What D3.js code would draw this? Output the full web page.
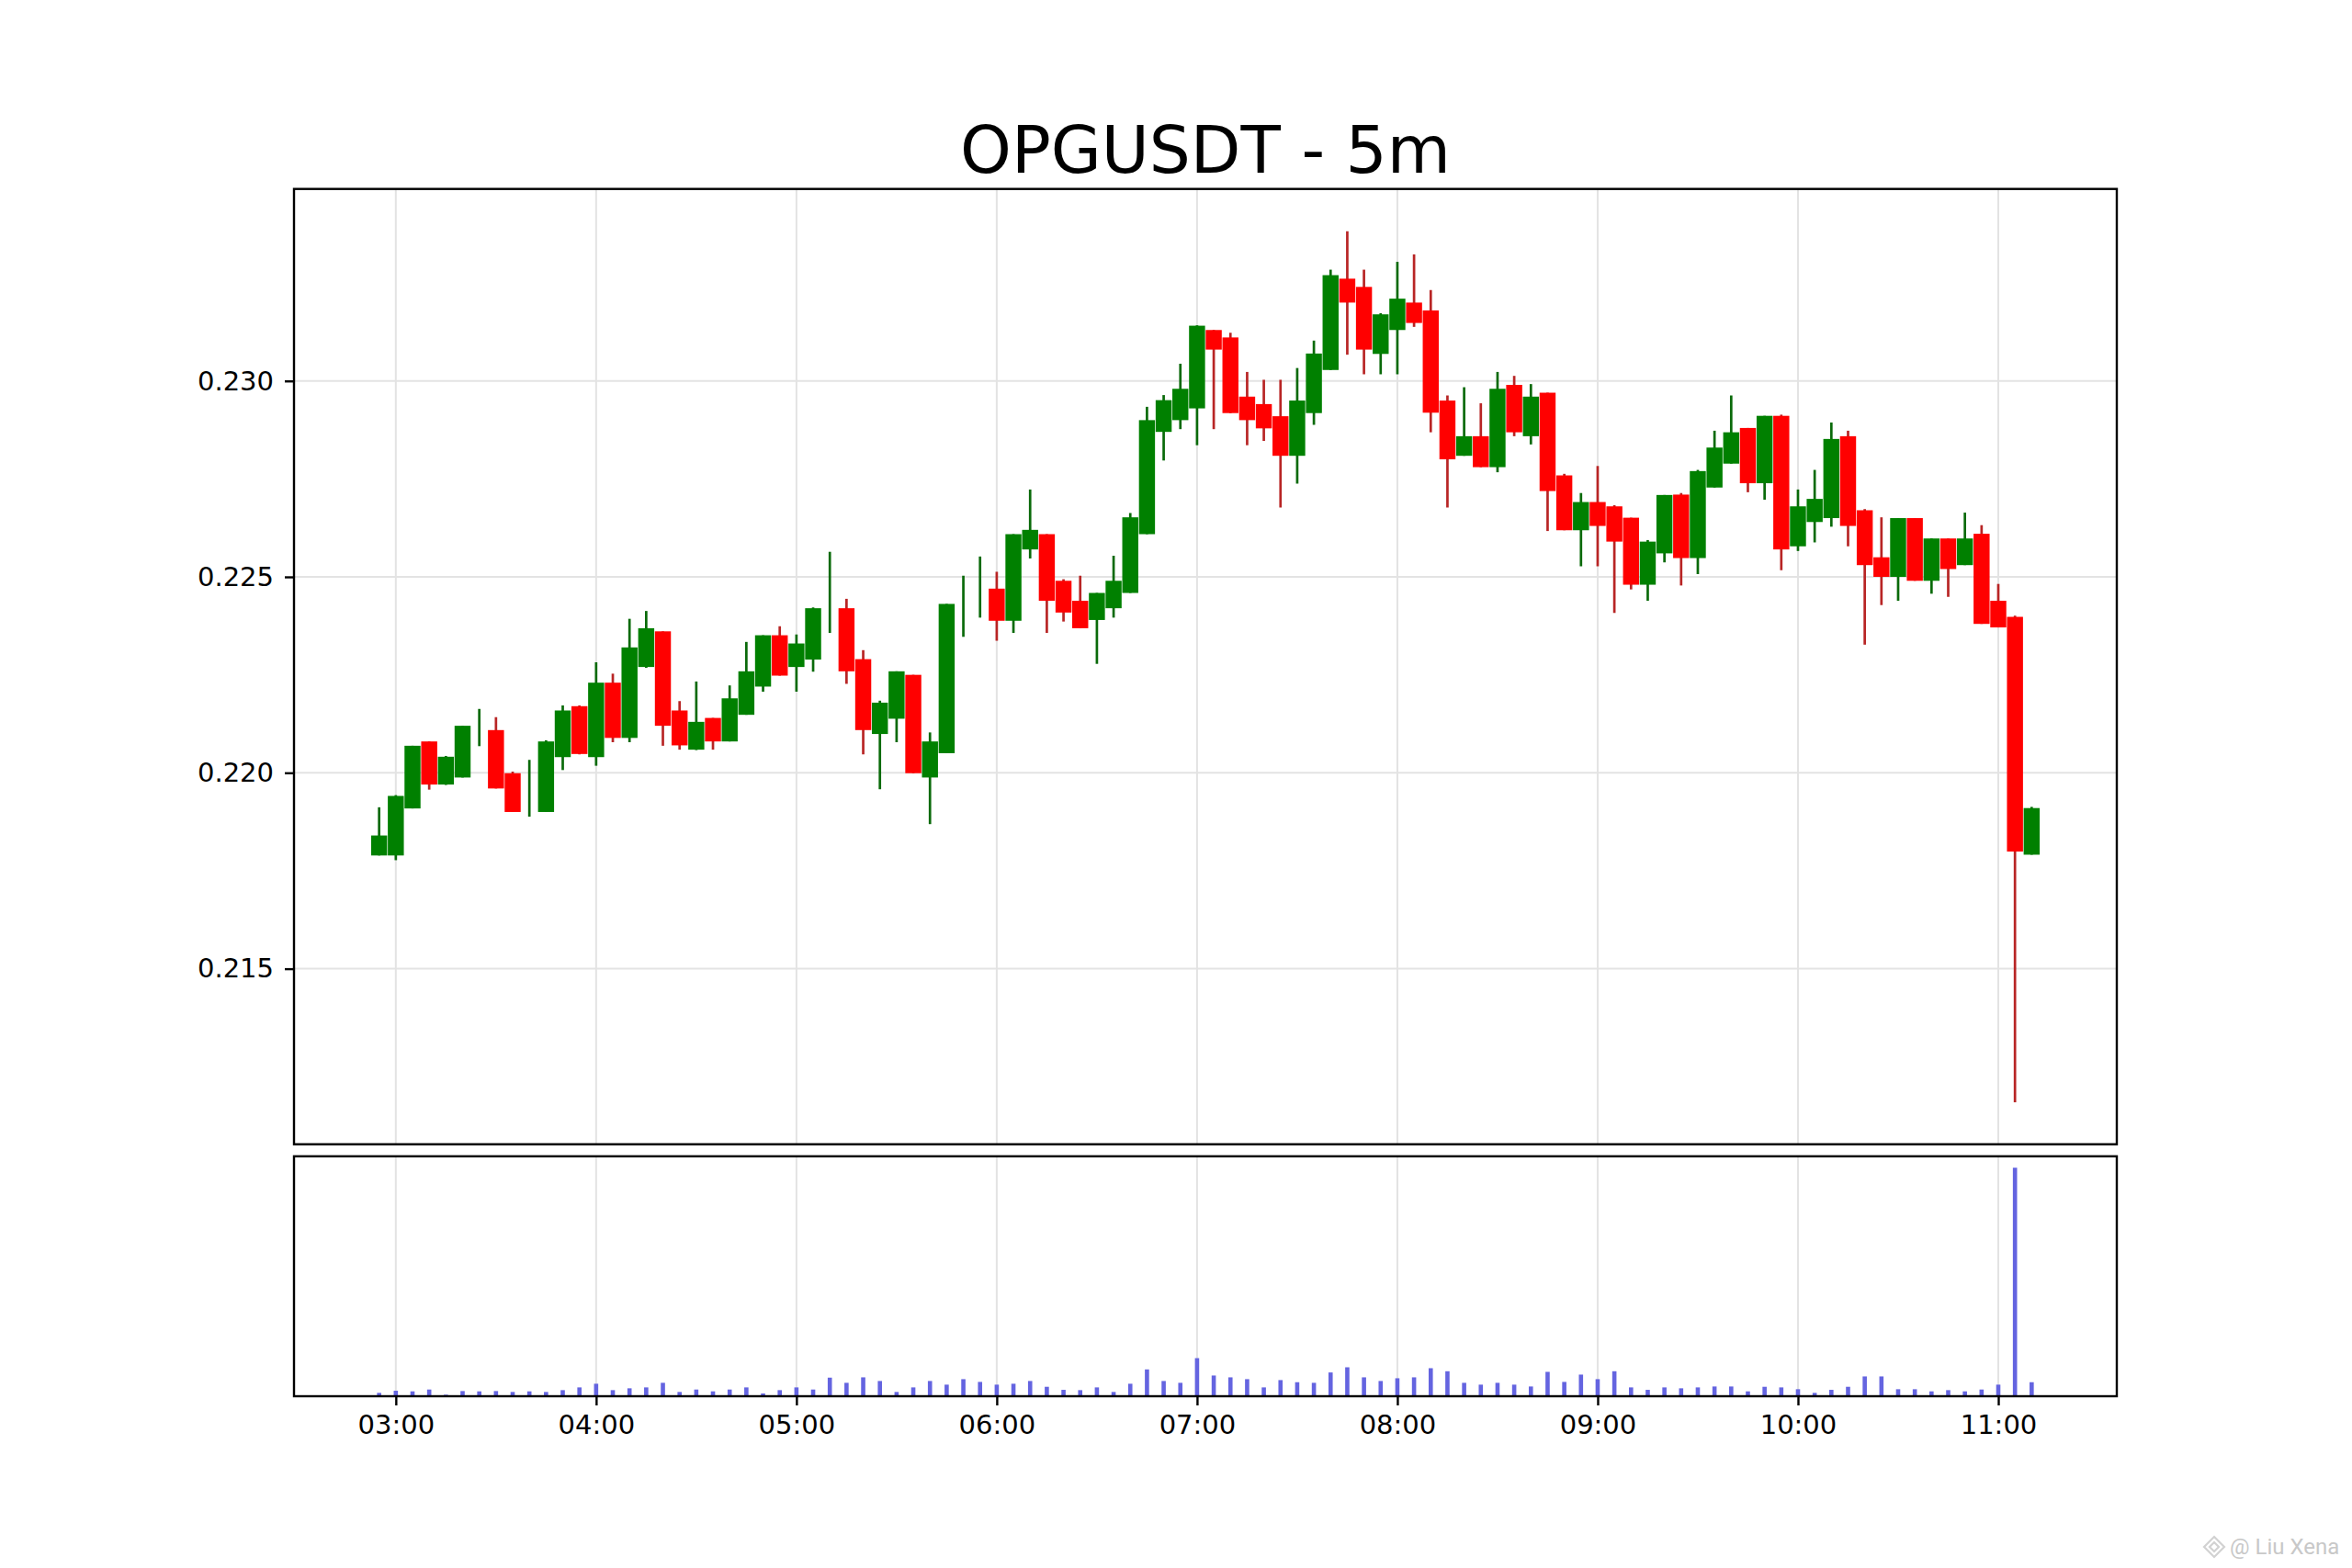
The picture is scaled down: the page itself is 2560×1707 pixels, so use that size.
<!DOCTYPE html>
<html>
<head>
<meta charset="utf-8">
<script src="https://cdn.jsdelivr.net/npm/d3@7"></script>
<style>
  html, body { margin: 0; padding: 0; background: #ffffff; }
  svg { display: block; font-family: "DejaVu Sans", sans-serif; }
</style>
</head>
<body>
<svg id="chart" width="2560" height="1707"></svg>
<script>
// ---------- data ----------
const title = "OPGUSDT - 5m";
const times = [
  "02:55","03:00","03:05","03:10","03:15","03:20","03:25","03:30","03:35","03:40","03:45","03:50","03:55",
  "04:00","04:05","04:10","04:15","04:20","04:25","04:30","04:35","04:40","04:45","04:50","04:55",
  "05:00","05:05","05:10","05:15","05:20","05:25","05:30","05:35","05:40","05:45","05:50","05:55",
  "06:00","06:05","06:10","06:15","06:20","06:25","06:30","06:35","06:40","06:45","06:50","06:55",
  "07:00","07:05","07:10","07:15","07:20","07:25","07:30","07:35","07:40","07:45","07:50","07:55",
  "08:00","08:05","08:10","08:15","08:20","08:25","08:30","08:35","08:40","08:45","08:50","08:55",
  "09:00","09:05","09:10","09:15","09:20","09:25","09:30","09:35","09:40","09:45","09:50","09:55",
  "10:00","10:05","10:10","10:15","10:20","10:25","10:30","10:35","10:40","10:45","10:50","10:55",
  "11:00","11:05","11:10"
];
const opens = [
  0.21789,0.21789,0.21909,0.22080,0.21970,0.21988,0.22100,0.22109,0.21999,0.21950,
  0.21900,0.22040,0.22170,0.22040,0.22230,0.22089,0.22270,0.22361,0.22159,0.22059,
  0.22140,0.22080,0.22148,0.22220,0.22351,0.22270,0.22289,0.22400,0.22420,0.22290,
  0.22099,0.22138,0.22250,0.21988,0.22050,0.22450,0.22480,0.22470,0.22388,0.22570,
  0.22609,0.22490,0.22439,0.22390,0.22420,0.22459,0.22609,0.22870,0.22900,0.22930,
  0.23130,0.23111,0.22960,0.22941,0.22910,0.22809,0.22918,0.23028,0.23261,0.23240,
  0.23069,0.23130,0.23200,0.23180,0.22950,0.22809,0.22859,0.22780,0.22990,0.22859,
  0.22970,0.22759,0.22619,0.22691,0.22680,0.22651,0.22480,0.22560,0.22710,0.22548,
  0.22728,0.22789,0.22880,0.22739,0.22911,0.22578,0.22640,0.22650,0.22859,0.22670,
  0.22550,0.22500,0.22650,0.22490,0.22598,0.22530,0.22610,0.22439,0.22398,0.21791
];
const highs = [
  0.21912,0.21943,0.22069,0.22080,0.22043,0.22120,0.22163,0.22142,0.22003,0.22033,
  0.22083,0.22172,0.22172,0.22282,0.22253,0.22393,0.22413,0.22361,0.22183,0.22233,
  0.22140,0.22223,0.22334,0.22351,0.22374,0.22353,0.22422,0.22564,0.22444,0.22313,
  0.22184,0.22259,0.22250,0.22103,0.22431,0.22503,0.22552,0.22513,0.22609,0.22723,
  0.22609,0.22494,0.22503,0.22459,0.22554,0.22663,0.22934,0.22964,0.23044,0.23142,
  0.23130,0.23123,0.23023,0.23003,0.23003,0.23033,0.23103,0.23284,0.23382,0.23284,
  0.23173,0.23304,0.23323,0.23232,0.22963,0.22984,0.22943,0.23023,0.23013,0.22992,
  0.22970,0.22763,0.22714,0.22783,0.22683,0.22651,0.22594,0.22709,0.22714,0.22773,
  0.22873,0.22963,0.22880,0.22911,0.22914,0.22723,0.22773,0.22894,0.22873,0.22673,
  0.22652,0.22650,0.22650,0.22598,0.22598,0.22664,0.22632,0.22482,0.22401,0.21913
];
const lows = [
  0.21789,0.21777,0.21909,0.21957,0.21969,0.21988,0.22068,0.21960,0.21900,0.21888,
  0.21900,0.22007,0.22047,0.22018,0.22078,0.22078,0.22268,0.22069,0.22059,0.22058,
  0.22059,0.22080,0.22148,0.22207,0.22248,0.22207,0.22258,0.22357,0.22227,0.22047,
  0.21958,0.22078,0.21999,0.21869,0.22050,0.22347,0.22396,0.22337,0.22357,0.22547,
  0.22357,0.22386,0.22369,0.22278,0.22396,0.22459,0.22609,0.22797,0.22877,0.22836,
  0.22877,0.22918,0.22836,0.22847,0.22677,0.22738,0.22888,0.23028,0.23067,0.23017,
  0.23017,0.23017,0.23138,0.22869,0.22677,0.22809,0.22780,0.22767,0.22859,0.22838,
  0.22617,0.22619,0.22527,0.22527,0.22408,0.22468,0.22439,0.22537,0.22478,0.22507,
  0.22728,0.22789,0.22716,0.22697,0.22517,0.22566,0.22588,0.22628,0.22578,0.22327,
  0.22428,0.22439,0.22490,0.22457,0.22449,0.22530,0.22380,0.22371,0.21159,0.21791
];
const closes = [
  0.21840,0.21941,0.22069,0.21970,0.22041,0.22120,0.22100,0.21960,0.21900,0.21950,
  0.22080,0.22159,0.22048,0.22230,0.22089,0.22320,0.22369,0.22120,0.22070,0.22130,
  0.22080,0.22190,0.22259,0.22351,0.22248,0.22330,0.22420,0.22400,0.22259,0.22109,
  0.22179,0.22259,0.21999,0.22080,0.22431,0.22450,0.22480,0.22388,0.22609,0.22620,
  0.22439,0.22409,0.22369,0.22459,0.22490,0.22652,0.22900,0.22951,0.22980,0.23141,
  0.23080,0.22918,0.22900,0.22879,0.22809,0.22950,0.23070,0.23270,0.23200,0.23080,
  0.23170,0.23210,0.23148,0.22919,0.22800,0.22859,0.22780,0.22980,0.22869,0.22960,
  0.22719,0.22619,0.22691,0.22630,0.22590,0.22480,0.22590,0.22709,0.22548,0.22770,
  0.22830,0.22869,0.22739,0.22911,0.22570,0.22680,0.22699,0.22852,0.22630,0.22530,
  0.22500,0.22650,0.22490,0.22598,0.22520,0.22598,0.22380,0.22371,0.21799,0.21910
];
const volumes = [
  11,18,16,22,5,17,16,17,14,16,
  14,20,29,41,20,26,29,44,14,22,
  16,22,29,9,20,29,22,61,44,62,
  50,14,29,50,38,56,47,38,41,50,
  31,21,20,29,14,41,88,50,44,125,
  68,62,56,29,53,46,44,78,95,62,
  50,59,62,92,82,44,38,44,38,32,
  80,47,71,56,82,29,21,29,26,29,
  32,32,16,31,29,23,11,21,31,65,
  65,23,23,16,20,16,22,38,750,46
].map(v => v * 1000);
const yTickValues = [0.215, 0.220, 0.225, 0.230];
const xTickLabels = ["03:00","04:00","05:00","06:00","07:00","08:00","09:00","10:00","11:00"];
const watermark = "@ Liu Xena";

// ---------- layout ----------
const W = 2560, H = 1707;
const L = 320, R = 2304;
const mainTop = 205.7, mainBot = 1245.7;
const volTop = 1258.8, volBot = 1520;

const parse = d3.timeParse("%H:%M");
const data = times.map((t, i) => ({
  t: parse(t), o: opens[i], h: highs[i], l: lows[i], c: closes[i], v: volumes[i]
}));
const step = 5 * 60 * 1000;
const t0 = data[0].t.getTime();
const x = d3.scaleTime()
  .domain([new Date(t0 - 5.1 * step), new Date(t0 + 104.1 * step)])
  .range([L, R]);
const y = d3.scaleLinear().domain([0.21052, 0.23490]).range([mainBot, mainTop]);
const vMax = d3.max(volumes);
const yv = d3.scaleLinear().domain([0, vMax * 1.05]).range([volBot, volTop]);

const svg = d3.select("#chart");
svg.append("rect").attr("width", W).attr("height", H).attr("fill", "#fff");

const xTicks = xTickLabels.map(s => parse(s));
const gridColor = "#e3e3e3";

// grids - main
const gMain = svg.append("g");
gMain.selectAll("line.vg").data(xTicks).join("line")
  .attr("x1", d => x(d)).attr("x2", d => x(d))
  .attr("y1", mainTop).attr("y2", mainBot)
  .attr("stroke", gridColor).attr("stroke-width", 2);
gMain.selectAll("line.hg").data(yTickValues).join("line")
  .attr("x1", L).attr("x2", R)
  .attr("y1", d => y(d)).attr("y2", d => y(d))
  .attr("stroke", gridColor).attr("stroke-width", 2);
// grids - volume
svg.append("g").selectAll("line").data(xTicks).join("line")
  .attr("x1", d => x(d)).attr("x2", d => x(d))
  .attr("y1", volTop).attr("y2", volBot)
  .attr("stroke", gridColor).attr("stroke-width", 2);

// candles
const bodyW = x(new Date(t0 + 0.48 * step)) - x(new Date(t0 - 0.48 * step));
const cg = svg.append("g");
cg.selectAll("line.wick").data(data).join("line")
  .attr("x1", d => x(d.t)).attr("x2", d => x(d.t))
  .attr("y1", d => y(d.h)).attr("y2", d => y(d.l))
  .attr("stroke", d => d.c >= d.o ? "#0a6a0a" : "#b82525")
  .attr("stroke-width", 2.7);
cg.selectAll("rect.body").data(data).join("rect")
  .attr("x", d => x(d.t) - bodyW / 2)
  .attr("width", bodyW)
  .attr("y", d => y(Math.max(d.o, d.c)))
  .attr("height", d => Math.abs(y(d.o) - y(d.c)))
  .attr("fill", d => d.c >= d.o ? "#008000" : "#ff0000");

// volume bars
const vW = 4.6;
svg.append("g").selectAll("rect").data(data).join("rect")
  .attr("x", d => x(d.t) - vW / 2)
  .attr("width", vW)
  .attr("y", d => yv(d.v))
  .attr("height", d => volBot - yv(d.v))
  .attr("fill", "#6464e0");

// spines
const spine = (top, bot) => svg.append("rect")
  .attr("x", L).attr("y", top).attr("width", R - L).attr("height", bot - top)
  .attr("fill", "none").attr("stroke", "#000").attr("stroke-width", 2.4);
spine(mainTop, mainBot);
spine(volTop, volBot);

// y axis (main)
const yAxis = d3.axisLeft(y).tickValues(yTickValues)
  .tickFormat(d3.format(".3f")).tickSize(10).tickPadding(12);
svg.append("g").attr("transform", `translate(${L},0)`).call(yAxis)
  .call(g => g.select(".domain").remove())
  .call(g => g.selectAll(".tick line").attr("stroke", "#000").attr("stroke-width", 2.4))
  .call(g => g.selectAll(".tick text").attr("font-size", 29).attr("fill", "#000")
    .attr("font-family", "DejaVu Sans"));

// x axis (volume panel)
const xAxis = d3.axisBottom(x).tickValues(xTicks)
  .tickFormat(d3.timeFormat("%H:%M")).tickSize(10).tickPadding(10);
svg.append("g").attr("transform", `translate(0,${volBot})`).call(xAxis)
  .call(g => g.select(".domain").remove())
  .call(g => g.selectAll(".tick line").attr("stroke", "#000").attr("stroke-width", 2.4))
  .call(g => g.selectAll(".tick text").attr("font-size", 29).attr("fill", "#000")
    .attr("font-family", "DejaVu Sans"));

// title
svg.append("text")
  .attr("x", (L + R) / 2).attr("y", 188)
  .attr("text-anchor", "middle")
  .attr("font-size", 71).attr("font-family", "DejaVu Sans").attr("fill", "#000")
  .text(title);

// watermark
const wm = svg.append("g").attr("transform", "translate(2410,1684)");
wm.append("path")
  .attr("d", "M0,-11 L11,0 L0,11 L-11,0 Z M0,-5 L5,0 L0,5 L-5,0 Z")
  .attr("fill", "none").attr("stroke", "#d2d2d2").attr("stroke-width", 2.2);
wm.append("text")
  .attr("x", 17).attr("y", 8)
  .attr("font-size", 24).attr("font-family", "Roboto, sans-serif").attr("fill", "#c8c8c8")
  .text(watermark);
</script>
</body>
</html>
